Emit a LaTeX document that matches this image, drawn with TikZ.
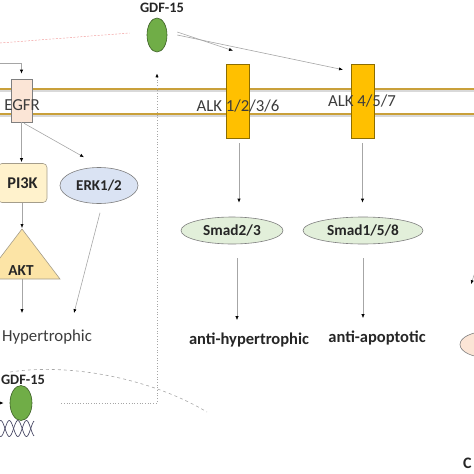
\documentclass[tikz,border=0pt]{standalone}
\usepackage{fontspec}
\setmainfont{Carlito}
\usetikzlibrary{positioning,calc,arrows.meta,shapes.geometric}
\definecolor{CGold}{HTML}{C9A03A}
\definecolor{CShade}{HTML}{D9D9D9}
\definecolor{CAlk}{HTML}{FFC000}
\definecolor{CAlkRim}{HTML}{8C6D00}
\definecolor{CLeaf}{HTML}{70AD47}
\definecolor{CLeafRim}{HTML}{3B5E25}
\definecolor{CPeach}{HTML}{FBE5D6}
\definecolor{CCream}{HTML}{FFF2CC}
\definecolor{CSand}{HTML}{FCE4A6}
\definecolor{CSky}{HTML}{DAE3F3}
\definecolor{CMint}{HTML}{E2EFDA}
\definecolor{CRim}{HTML}{7F7F7F}
\definecolor{CWire}{HTML}{A6A6A6}
\definecolor{CRose}{HTML}{F2A0A0}
\definecolor{CHelix}{HTML}{4A4A66}
\definecolor{CInk}{HTML}{262626}

\begin{document}
\begin{tikzpicture}[x=1pt, y=-1pt,
  wire/.style={CWire, line width=0.6pt, -{Latex[black,length=4pt,width=3.2pt]}},
  membrane/.style={CGold, line width=1.8pt},
  receptor/.style={draw=CAlkRim, fill=CAlk, line width=0.6pt, minimum width=23pt, minimum height=74pt, inner sep=0pt},
  blob/.style={ellipse, draw=CRim, line width=0.6pt, inner sep=0pt},
  boldlabel/.style={font=\fontsize{15.3}{16}\selectfont\bfseries, text=CInk, inner sep=0pt},
  plainlabel/.style={font=\fontsize{16.8}{18}\selectfont, text=CInk!90, inner sep=0pt}]
\useasboundingbox (0,0) rectangle (474,474);
\clip (0,0) rectangle (474,474);

% membrane
\foreach \y in {89,114}{
  \draw[CShade, line width=1.5pt] (0,\y+2.2) -- (474,\y+2.2);
  \draw[membrane] (0,\y) -- (474,\y);
}

% receptors
\node[draw=CRim, fill=CPeach, line width=0.6pt, minimum width=21pt, minimum height=43pt, inner sep=0pt] (egfr) at (21.5,100.5) {};
\node[plainlabel, anchor=base] at (22,110) {EGFR};
\node[receptor] (alkA) at (237.5,101) {};
\node[plainlabel, anchor=base] at (238,111) {ALK 1/2/3/6};
\node[receptor] (alkB) at (362.5,101) {};
\node[plainlabel, anchor=base] at (362,106) {ALK 4/5/7};

% ligand outside
\node[blob, draw=CLeafRim, fill=CLeaf, minimum width=20pt, minimum height=34pt] (gdfOut) at (157,35) {};
\node[boldlabel, font=\fontsize{14.4}{15}\selectfont\bfseries, anchor=base] at (162,12) {GDF-15};

% hypertrophic branch
\node[draw=CRim!70!CSand, fill=CCream, rounded corners=4pt, line width=0.6pt, minimum width=49pt, minimum height=39pt, inner sep=0pt, boldlabel, font=\fontsize{16.4}{17}\selectfont\bfseries] (pi3k) at (22.5,183) {PI3K};
\node[blob, fill=CSky, minimum width=78pt, minimum height=36pt, boldlabel, font=\fontsize{15}{16}\selectfont\bfseries] (erk) at (99,185.5) {ERK1/2};
\coordinate (aktTop) at (22,229);
\coordinate (aktBase) at (22,279);
\draw[fill=CSand, draw=CRim!70!CSand, line width=0.6pt] (aktTop) -- (60,279) -- (-16,279) -- cycle;
\node[boldlabel, anchor=base] (akt) at (21,275) {AKT};
\node[plainlabel, anchor=base] (hyper) at (47,341) {Hypertrophic};

% smad branch
\node[blob, fill=CMint, minimum width=102pt, minimum height=27pt, boldlabel] (smadA) at (232,230.5) {Smad2/3};
\node[blob, fill=CMint, minimum width=120pt, minimum height=27pt, boldlabel] (smadB) at (363,230.5) {Smad1/5/8};
\node[boldlabel, font=\fontsize{16.5}{17}\selectfont\bfseries, anchor=base] (antiH) at (249,344) {anti-hypertrophic};
\node[boldlabel, font=\fontsize{16.5}{17}\selectfont\bfseries, anchor=base] (antiA) at (377,342) {anti-apoptotic};

% nucleus
\draw[CWire, dashed, line width=0.6pt] (10,372) .. controls (70,363) and (150,378) .. (207,412);
\draw[CHelix, line width=0.7pt] plot[domain=-4:34, samples=60, smooth] (\x,{428.5-8*sin((\x-5)*21)});
\draw[CHelix, line width=0.7pt] plot[domain=-4:34, samples=60, smooth] (\x,{428.5+8*sin((\x-5)*21)});
\node[blob, draw=CLeafRim, fill=CLeaf, minimum width=22pt, minimum height=35pt] (gdfIn) at (21,403) {};
\node[boldlabel, font=\fontsize{14.4}{15}\selectfont\bfseries, anchor=base] at (23,384) {GDF-15};

% right cell (cut off)
\node[blob, fill=CPeach, minimum width=54pt, minimum height=26pt] (rightCell) at (487,344.5) {};
\node[boldlabel, font=\fontsize{16}{17}\selectfont\bfseries, anchor=base west] at (463,468) {C};

% connectors
\coordinate (entry) at (0,63);
\coordinate (alkAout) at ($(alkA.south)+(1.5,0)$);
\coordinate (smadAout) at ($(smadA.south)+(5,0)$);
\draw[CRose, dash pattern=on 2pt off 1.5pt, line width=0.5pt] (0,43) -- ($(gdfOut.west)+(-17,-2)$);
\draw[wire] ($(gdfOut.east)+(10,-3)$) -- ($(alkA.north)+(-4.5,-13)$);
\draw[wire] ($(gdfOut.east)+(10,0)$) -- ($(alkB.north)+(-19.5,6)$);
\draw[wire, shorten >=5pt] (entry) -| (egfr.north);
\draw[wire, shorten >=1pt] (egfr.south) -- (egfr.south |- pi3k.north);
\draw[wire] ($(egfr.south)+(2.5,1)$) -- ($(erk.north)+(-15,-10)$);
\draw[wire, shorten >=1pt] (pi3k.south -| aktTop) -- (aktTop);
\draw[wire, shorten >=16pt] (aktBase) -- (aktBase |- hyper.north);
\draw[wire] ($(erk.south)+(1,9)$) -- ($(hyper.north)+(27,-16)$);
\draw[wire, shorten <=5pt, shorten >=14pt] (alkAout) -- (alkAout |- smadA.north);
\draw[wire, shorten <=5pt, shorten >=14pt] (alkB.south) -- (alkB.south |- smadB.north);
\draw[wire, shorten <=14pt, shorten >=12pt] (smadAout) -- (smadAout |- antiH.north);
\draw[wire, shorten <=14pt, shorten >=12pt] (smadB.south) -- (smadB.south |- antiA.north);
\draw[CWire, dotted, line width=0.7pt, -{Latex[black,length=4pt,width=3.2pt]}, shorten >=21pt] ($(gdfIn.east)+(29,0)$) -| (gdfOut.south);
\draw[wire] ($(gdfIn.west)+(-16,0)$) -- ($(gdfIn.west)+(-6,0)$);
\draw[wire] ($(rightCell.north)+(-11,-62)$) -- ($(rightCell.north)+(-16,-47)$);
\end{tikzpicture}
\end{document}
